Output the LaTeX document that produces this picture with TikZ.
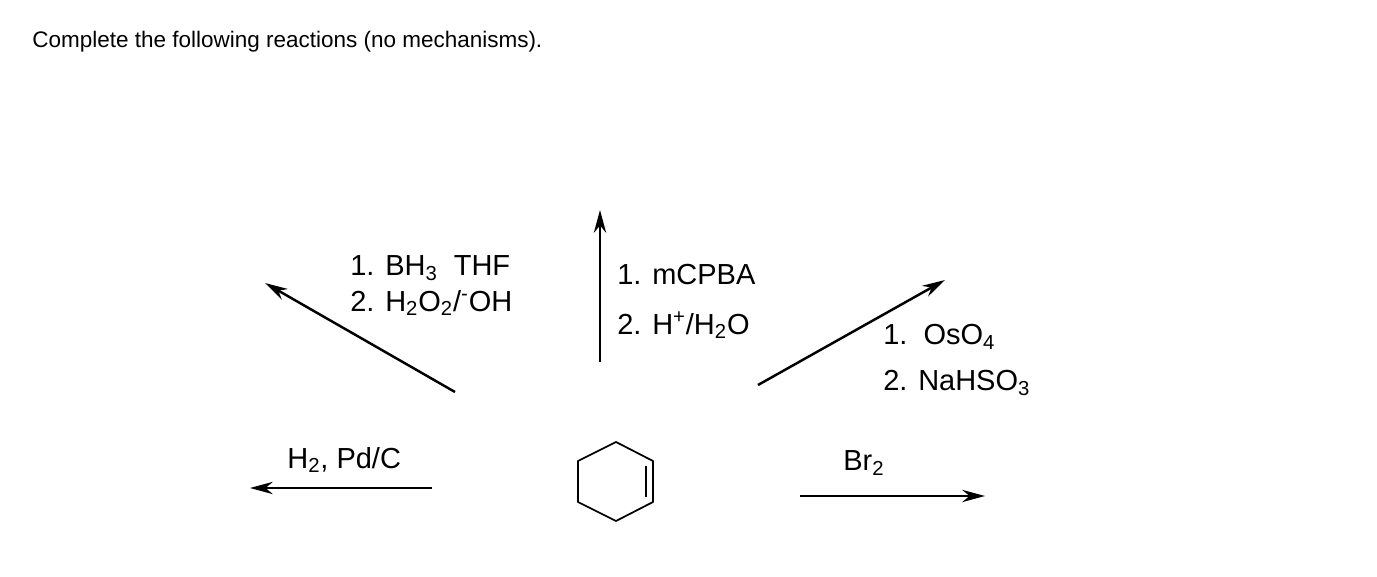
\documentclass[tikz,border=0pt]{standalone}
\usepackage{fontspec}
\setmainfont{Liberation Sans}
\usetikzlibrary{arrows.meta}
\begin{document}
\begin{tikzpicture}[x=0.02cm,y=-0.02cm,
  rx/.style={line width=1.4pt,-{Stealth[length=13pt,width=7pt]}},
  lbl/.style={anchor=west,inner sep=0pt,font=\fontsize{16.5}{19}\selectfont},
  bond/.style={line width=1pt}]
\useasboundingbox (0,0) rectangle (1377,577);
\node[anchor=west,inner sep=0pt,font=\fontsize{12.8}{15}\selectfont] (title) at (32,42) {Complete the following reactions (no mechanisms).};
% cyclohexene
\coordinate (v1) at (616,442); \coordinate (v2) at (653,461); \coordinate (v3) at (653,502);
\coordinate (v4) at (616,521); \coordinate (v5) at (578,502); \coordinate (v6) at (578,461);
\draw[bond,line join=round] (v1)--(v2)--(v3)--(v4)--(v5)--(v6)--cycle;
\coordinate (d1) at (646,466); \coordinate (d2) at (646,497);
\draw[bond] (d1)--(d2);
% arrows
\coordinate (a1s) at (455,392); \coordinate (a1e) at (265,283);
\coordinate (a2s) at (600,362); \coordinate (a2e) at (600,210);
\coordinate (a3s) at (758,385); \coordinate (a3e) at (945,280);
\coordinate (a4s) at (432,488); \coordinate (a4e) at (250,488);
\coordinate (a5s) at (800,496); \coordinate (a5e) at (985,496);
\draw[rx] (a1s)--(a1e);
\draw[rx] (a2s)--(a2e);
\draw[rx] (a3s)--(a3e);
\draw[rx] (a4s)--(a4e);
\draw[rx] (a5s)--(a5e);
% labels
\node[lbl] (l1) at (350,268) {1. BH\textsubscript{3}\ \ THF};
\node[lbl] (l2) at (350,303) {2. H\textsubscript{2}O\textsubscript{2}/\textsuperscript{-}OH};
\node[lbl] (l3) at (617,275) {1. mCPBA};
\node[lbl] (l4) at (617,325) {2. H\textsuperscript{+}/H\textsubscript{2}O};
\node[lbl] (l5) at (883,337) {1.\ \ OsO\textsubscript{4}};
\node[lbl] (l6) at (883,383) {2. NaHSO\textsubscript{3}};
\node[lbl] (l7) at (287,460) {H\textsubscript{2}, Pd/C};
\node[lbl] (l8) at (843,463) {Br\textsubscript{2}};
\end{tikzpicture}
\end{document}
